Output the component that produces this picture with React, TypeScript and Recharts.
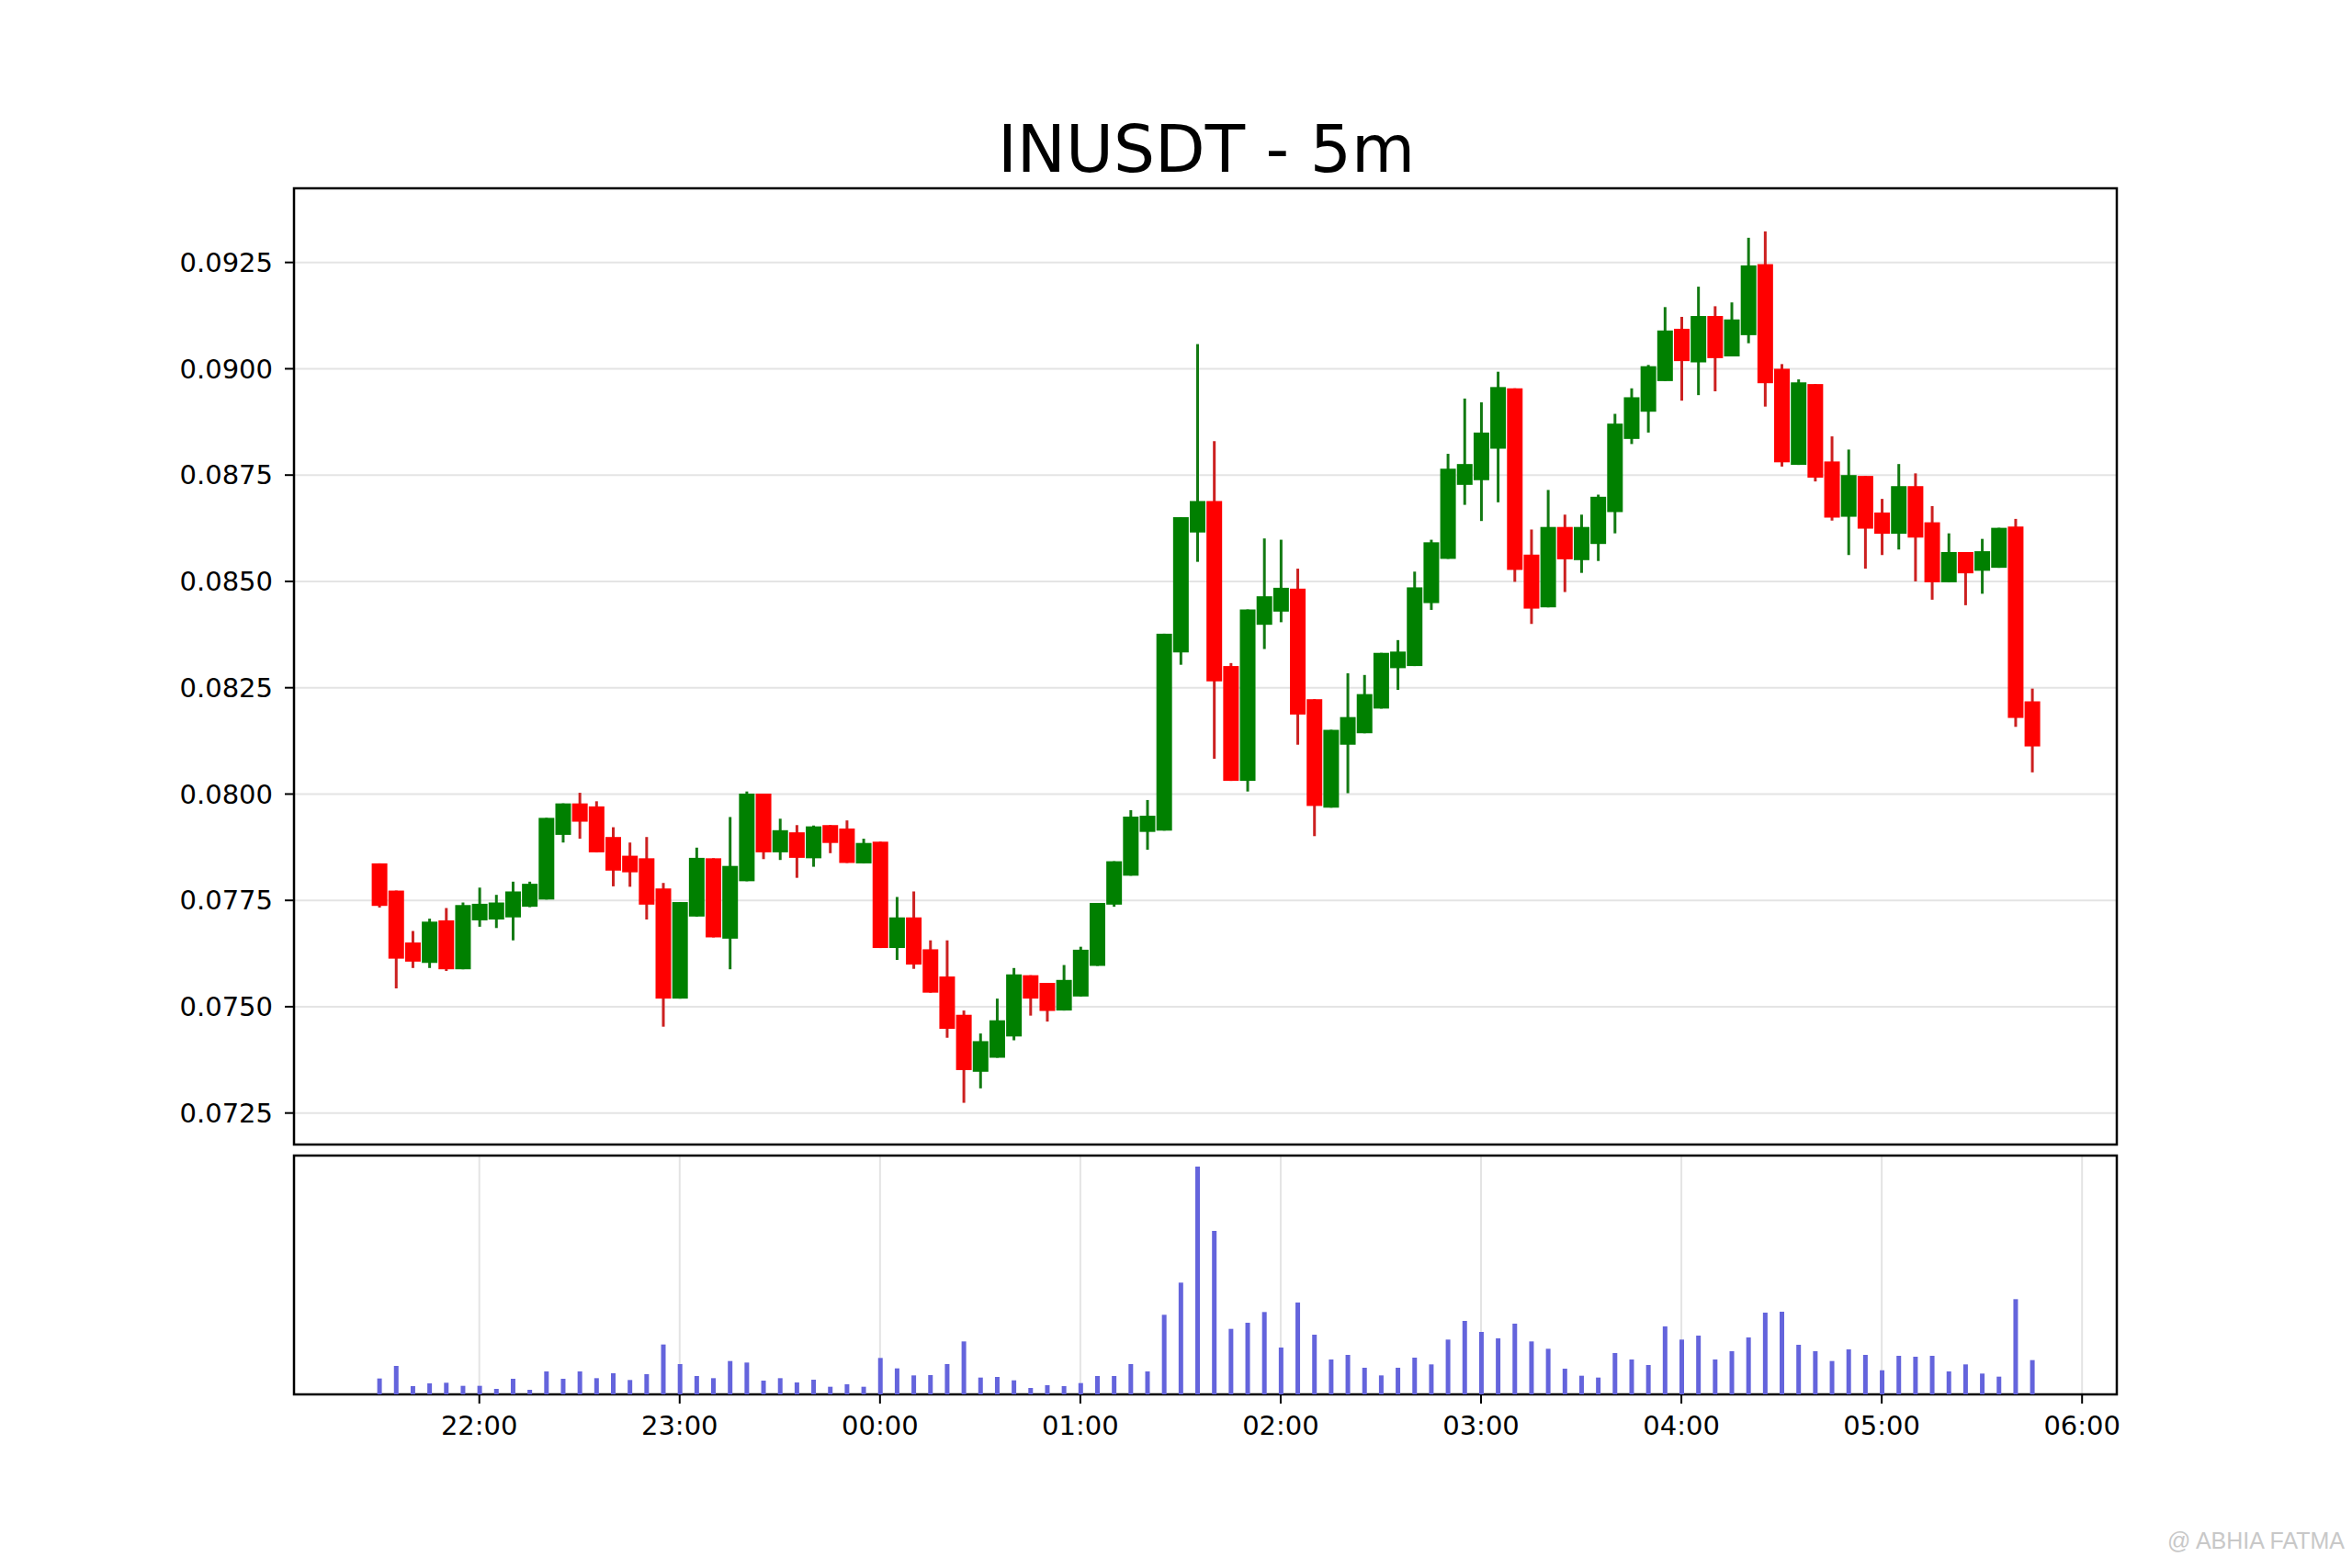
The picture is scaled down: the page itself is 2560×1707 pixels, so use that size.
import React from "react";
import {
  ComposedChart,
  Bar,
  XAxis,
  YAxis,
  CartesianGrid,
  ReferenceArea,
} from "recharts";

// 5 minute candles, INUSDT
const times = [
  "21:30", "21:35", "21:40", "21:45", "21:50", "21:55", "22:00", "22:05", "22:10", "22:15",
  "22:20", "22:25", "22:30", "22:35", "22:40", "22:45", "22:50", "22:55", "23:00", "23:05",
  "23:10", "23:15", "23:20", "23:25", "23:30", "23:35", "23:40", "23:45", "23:50", "23:55",
  "00:00", "00:05", "00:10", "00:15", "00:20", "00:25", "00:30", "00:35", "00:40", "00:45",
  "00:50", "00:55", "01:00", "01:05", "01:10", "01:15", "01:20", "01:25", "01:30", "01:35",
  "01:40", "01:45", "01:50", "01:55", "02:00", "02:05", "02:10", "02:15", "02:20", "02:25",
  "02:30", "02:35", "02:40", "02:45", "02:50", "02:55", "03:00", "03:05", "03:10", "03:15",
  "03:20", "03:25", "03:30", "03:35", "03:40", "03:45", "03:50", "03:55", "04:00", "04:05",
  "04:10", "04:15", "04:20", "04:25", "04:30", "04:35", "04:40", "04:45", "04:50", "04:55",
  "05:00", "05:05", "05:10", "05:15", "05:20", "05:25", "05:30", "05:35", "05:40", "05:45",
];

const opens = [
  0.07837, 0.07773, 0.07651, 0.07603, 0.07703, 0.07588, 0.07703, 0.07705, 0.0771, 0.07735,
  0.07752, 0.07904, 0.07978, 0.07971, 0.07899, 0.07855, 0.07849, 0.07778, 0.07519, 0.07712,
  0.07849, 0.0766, 0.07795, 0.08001, 0.07863, 0.0791, 0.07849, 0.07927, 0.07919, 0.07837,
  0.07888, 0.07638, 0.0771, 0.07635, 0.07571, 0.07481, 0.07347, 0.0738, 0.0743, 0.07574,
  0.07556, 0.07491, 0.07524, 0.07596, 0.0774, 0.07808, 0.07911, 0.07914, 0.08333, 0.08615,
  0.08689, 0.08301, 0.08031, 0.08398, 0.08429, 0.08483, 0.08223, 0.07968, 0.08116, 0.08143,
  0.08201, 0.08296, 0.08301, 0.08449, 0.08553, 0.08727, 0.08738, 0.08812, 0.08954, 0.08563,
  0.08439, 0.08628, 0.0855, 0.08588, 0.08663, 0.08835, 0.08899, 0.08971, 0.09094, 0.09015,
  0.09124, 0.09029, 0.09079, 0.09246, 0.09, 0.08774, 0.08964, 0.08782, 0.08652, 0.08748,
  0.08662, 0.08612, 0.08724, 0.08639, 0.08498, 0.08569, 0.08525, 0.08532, 0.08629, 0.08218,
];

const highs = [
  0.07837, 0.07773, 0.07678, 0.07707, 0.07732, 0.07745, 0.0778, 0.07763, 0.07794, 0.07794,
  0.07944, 0.07978, 0.08003, 0.07983, 0.07922, 0.07886, 0.07899, 0.07791, 0.07746, 0.07874,
  0.07849, 0.07946, 0.08006, 0.08001, 0.07942, 0.07927, 0.07926, 0.07927, 0.07938, 0.07895,
  0.07888, 0.07758, 0.07771, 0.07656, 0.07656, 0.07491, 0.07437, 0.07519, 0.07591, 0.07574,
  0.07556, 0.07598, 0.07641, 0.07744, 0.07842, 0.07962, 0.07986, 0.08377, 0.08651, 0.09058,
  0.0883, 0.08308, 0.08434, 0.08601, 0.08598, 0.0853, 0.08223, 0.08151, 0.08284, 0.0828,
  0.08332, 0.08362, 0.08523, 0.08598, 0.088, 0.0893, 0.08921, 0.08993, 0.08954, 0.08622,
  0.08715, 0.08657, 0.08657, 0.08704, 0.08894, 0.08954, 0.09009, 0.09145, 0.09122, 0.09193,
  0.09147, 0.09156, 0.09308, 0.09323, 0.09011, 0.08975, 0.08964, 0.08841, 0.0881, 0.08748,
  0.08694, 0.08776, 0.08754, 0.08677, 0.08613, 0.08569, 0.086, 0.08626, 0.08647, 0.08248,
];

const lows = [
  0.07733, 0.07543, 0.07591, 0.07591, 0.07584, 0.07588, 0.07688, 0.07685, 0.07656, 0.07734,
  0.07752, 0.07886, 0.07895, 0.07863, 0.07783, 0.07782, 0.07705, 0.07453, 0.07519, 0.07712,
  0.07663, 0.07588, 0.07795, 0.07847, 0.07845, 0.07803, 0.07829, 0.07861, 0.07838, 0.07837,
  0.07638, 0.0761, 0.07589, 0.07533, 0.07427, 0.07274, 0.07308, 0.0738, 0.07421, 0.07479,
  0.07465, 0.07491, 0.07524, 0.07596, 0.07735, 0.07808, 0.07869, 0.07914, 0.08304, 0.08546,
  0.08083, 0.08031, 0.08006, 0.08341, 0.08404, 0.08116, 0.07901, 0.07968, 0.08002, 0.08143,
  0.08201, 0.08245, 0.08301, 0.08433, 0.08553, 0.0868, 0.08642, 0.08686, 0.08499, 0.084,
  0.08439, 0.08475, 0.0852, 0.08548, 0.08613, 0.08823, 0.0885, 0.08971, 0.08925, 0.08938,
  0.08947, 0.09029, 0.0906, 0.08911, 0.0877, 0.08774, 0.08735, 0.08643, 0.08562, 0.0853,
  0.08562, 0.08575, 0.085, 0.08457, 0.08498, 0.08444, 0.08471, 0.08532, 0.08158, 0.08051,
];

const closes = [
  0.07737, 0.07613, 0.07606, 0.077, 0.07588, 0.07739, 0.07742, 0.07745, 0.07771, 0.07789,
  0.07944, 0.07978, 0.07935, 0.07863, 0.0782, 0.07816, 0.0774, 0.07519, 0.07746, 0.0785,
  0.07663, 0.07831, 0.08001, 0.07863, 0.07915, 0.0785, 0.07924, 0.07885, 0.07838, 0.07885,
  0.07638, 0.0771, 0.07599, 0.07533, 0.07448, 0.07351, 0.07419, 0.07468, 0.07576, 0.07519,
  0.0749, 0.07563, 0.07634, 0.07744, 0.07842, 0.07947, 0.07949, 0.08377, 0.08651, 0.08689,
  0.08265, 0.08031, 0.08434, 0.08465, 0.08485, 0.08187, 0.07972, 0.08151, 0.08181, 0.08235,
  0.08332, 0.08335, 0.08486, 0.08592, 0.08765, 0.08776, 0.0885, 0.08957, 0.08527, 0.08436,
  0.08628, 0.08552, 0.08628, 0.08699, 0.08871, 0.08933, 0.09006, 0.0909, 0.09018, 0.09124,
  0.09025, 0.09116, 0.09243, 0.08966, 0.0878, 0.08968, 0.08744, 0.0865, 0.0875, 0.08624,
  0.08612, 0.08724, 0.08603, 0.08498, 0.08569, 0.08519, 0.08571, 0.08626, 0.08179, 0.08112,
];

const volumes = [
  52, 93, 27, 36, 38, 28, 28, 18, 51, 15,
  75, 51, 75, 53, 69, 47, 66, 163, 99, 60,
  53, 109, 104, 45, 53, 39, 48, 25, 33, 25,
  119, 85, 62, 63, 99, 173, 55, 57, 46, 21,
  30, 27, 37, 60, 60, 99, 75, 260, 365, 744,
  534, 214, 234, 269, 153, 300, 195, 114, 129, 87,
  62, 87, 120, 98, 179, 240, 204, 183, 231, 173,
  149, 84, 61, 55, 135, 114, 96, 222, 179, 192,
  114, 141, 186, 267, 270, 162, 141, 109, 147, 129,
  79, 126, 123, 126, 75, 98, 68, 58, 311, 112,
];

const hourTicks = [60, 120, 180, 240, 300, 360, 420, 480, 540];
const priceTicks = [0.0725, 0.075, 0.0775, 0.08, 0.0825, 0.085, 0.0875, 0.09, 0.0925];

const X_DOMAIN: [number, number] = [4.5, 550.4];
const PRICE_DOMAIN: [number, number] = [0.071759, 0.094243];
const VOL_DOMAIN: [number, number] = [0, 780];

const UP = "#008000";
const DOWN = "#ff0000";
const UP_WICK = "#127a12";
const DOWN_WICK = "#cc2020";
const GRID = "#e4e4e4";
const FONT = "DejaVu Sans";

const toMinutes = (t: string) => {
  const [h, m] = t.split(":").map(Number);
  return ((h - 21 + 24) % 24) * 60 + m;
};

const hourLabel = (m: number) => {
  const h = (21 + Math.floor(m / 60)) % 24;
  return `${String(h).padStart(2, "0")}:00`;
};

const data = times.map((t, i) => ({
  t: toMinutes(t),
  open: opens[i],
  high: highs[i],
  low: lows[i],
  close: closes[i],
  range: [lows[i], highs[i]],
  vol: volumes[i],
}));

const Candle = (props: any) => {
  const { x, y, width, height, payload } = props;
  if (x == null || y == null) return null;
  const { open, close, high, low } = payload;
  const up = close >= open;
  const top = Math.min(y, y + height);
  const h = Math.abs(height);
  const ratio = high > low ? h / (high - low) : 0;
  const bodyTop = top + (high - Math.max(open, close)) * ratio;
  const bodyBottom = top + (high - Math.min(open, close)) * ratio;
  const cx = x + width / 2;
  return (
    <g>
      <line
        x1={cx}
        x2={cx}
        y1={top}
        y2={top + h}
        stroke={up ? UP_WICK : DOWN_WICK}
        strokeWidth={3}
      />
      <rect
        x={x}
        y={bodyTop}
        width={width}
        height={Math.max(bodyBottom - bodyTop, 1)}
        fill={up ? UP : DOWN}
      />
    </g>
  );
};

const tickStyle = { fill: "#000", fontSize: 29, fontFamily: FONT };

const App = () => {
  return (
    <div
      style={{
        position: "absolute",
        left: 0,
        top: 0,
        width: 2560,
        height: 1707,
        background: "#fff",
        fontFamily: FONT,
      }}
    >
      <div
        style={{
          position: "absolute",
          left: 0,
          top: 127,
          width: 2626,
          textAlign: "center",
          fontSize: 71,
          lineHeight: "71px",
          color: "#000",
        }}
      >
        INUSDT - 5m
      </div>

      <div style={{ position: "absolute", left: 0, top: 0 }}>
        <ComposedChart
          width={2560}
          height={1300}
          data={data}
          margin={{ top: 205, right: 256, bottom: 54, left: 120 }}
        >
          <CartesianGrid stroke={GRID} strokeWidth={2} />
          <XAxis
            dataKey="t"
            type="number"
            domain={X_DOMAIN}
            ticks={hourTicks}
            allowDataOverflow
            tick={false}
            tickLine={false}
            axisLine={false}
            height={0}
          />
          <YAxis
            type="number"
            domain={PRICE_DOMAIN}
            ticks={priceTicks}
            allowDataOverflow
            width={200}
            axisLine={false}
            tickLine={{ stroke: "#000", strokeWidth: 2 }}
            tickSize={10}
            tickMargin={13}
            tick={tickStyle}
            tickFormatter={(v: number) => v.toFixed(4)}
          />
          <Bar
            dataKey="range"
            barSize={17}
            shape={Candle}
            isAnimationActive={false}
          />
          <ReferenceArea
            x1={X_DOMAIN[0]}
            x2={X_DOMAIN[1]}
            y1={PRICE_DOMAIN[0]}
            y2={PRICE_DOMAIN[1]}
            fill="none"
            fillOpacity={0}
            stroke="#000"
            strokeWidth={2.5}
            ifOverflow="visible"
          />
        </ComposedChart>
      </div>

      <div style={{ position: "absolute", left: 0, top: 0 }}>
        <ComposedChart
          width={2560}
          height={1707}
          data={data}
          margin={{ top: 1258, right: 256, bottom: 129, left: 320 }}
        >
          <CartesianGrid stroke={GRID} strokeWidth={2} horizontal={false} />
          <XAxis
            dataKey="t"
            type="number"
            domain={X_DOMAIN}
            ticks={hourTicks}
            allowDataOverflow
            height={60}
            axisLine={false}
            tickLine={{ stroke: "#000", strokeWidth: 2 }}
            tickSize={10}
            tickMargin={13}
            tick={tickStyle}
            tickFormatter={hourLabel}
          />
          <YAxis type="number" domain={VOL_DOMAIN} hide allowDataOverflow />
          <Bar
            dataKey="vol"
            barSize={5}
            fill="#6464dc"
            isAnimationActive={false}
          />
          <ReferenceArea
            x1={X_DOMAIN[0]}
            x2={X_DOMAIN[1]}
            y1={VOL_DOMAIN[0]}
            y2={VOL_DOMAIN[1]}
            fill="none"
            fillOpacity={0}
            stroke="#000"
            strokeWidth={2.5}
            ifOverflow="visible"
          />
        </ComposedChart>
      </div>

      <div
        style={{
          position: "absolute",
          right: 8,
          top: 1665,
          fontSize: 25,
          lineHeight: "25px",
          color: "#c8c8c8",
          fontFamily: "Liberation Sans",
        }}
      >
        @ ABHIA FATMA
      </div>
    </div>
  );
};

export default App;
